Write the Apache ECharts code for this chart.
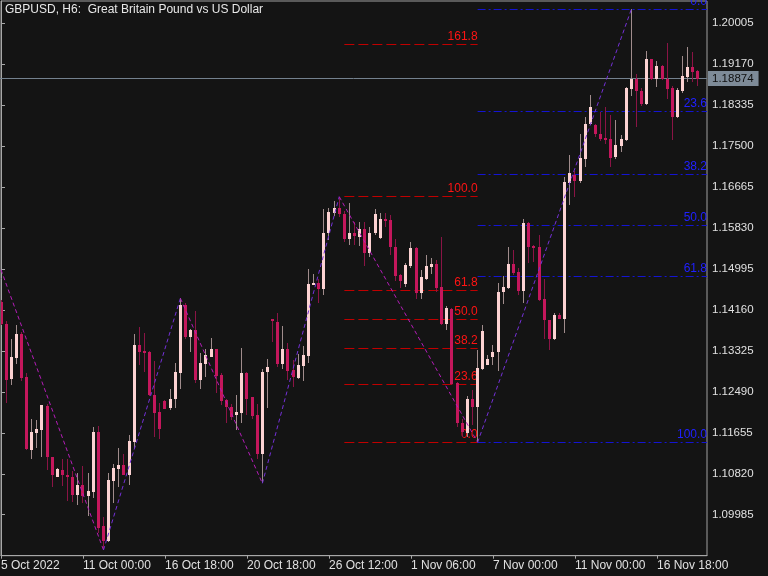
<!DOCTYPE html>
<html>
<head>
<meta charset="utf-8">
<script src="https://cdn.jsdelivr.net/npm/echarts/dist/echarts.min.js"></script>
<style>
html,body{margin:0;padding:0;background:#141414;}
#chart{width:768px;height:576px;}
</style>
</head>
<body>
<div id="chart"></div>
<script>
// ---- data (GBPUSD H6) ----
const opens = [1.14326,1.13871,1.12744,1.13172,1.13678,1.12785,1.11303,1.11644,1.11711,1.12200,
1.11155,1.10759,1.10896,1.10800,1.10759,1.10393,1.10596,1.10366,1.10448,1.11670,
1.09755,1.09455,1.10666,1.10922,1.10992,1.10800,1.11467,1.13437,1.13315,1.13301,
1.12418,1.12078,1.12308,1.12159,1.12337,1.12879,1.14265,1.13600,1.13749,1.12730,
1.13056,1.13205,1.13356,1.12826,1.12322,1.12174,1.12011,1.12064,1.12879,1.12377,
1.12011,1.11222,1.12893,1.13967,1.13912,1.13056,1.13356,1.12934,1.12771,1.13015,
1.13219,1.14672,1.14713,1.14578,1.15720,1.16127,1.16235,1.16113,1.15610,1.15732,
1.15650,1.15813,1.15312,1.15732,1.15624,1.16005,1.15991,1.15447,1.14864,1.14686,
1.15053,1.15420,1.14497,1.14794,1.15039,1.15094,1.14619,1.13871,1.14183,1.12663,
1.11848,1.11644,1.12349,1.12186,1.12960,1.13042,1.13205,1.13301,1.14523,1.14605,
1.15094,1.14931,1.14538,1.15936,1.15461,1.15434,1.14375,1.13953,1.13572,1.14061,
1.13967,1.16751,1.16902,1.16779,1.17240,1.17947,1.17921,1.17743,1.17662,1.17635,
1.17268,1.17499,1.17621,1.18666,1.18870,1.18626,1.18355,1.19266,1.18870,1.19129,
1.18870,1.18681,1.18084,1.18613,1.18911,1.19103,1.19021];
const highs = [1.14360,1.13926,1.13576,1.13845,1.13708,1.12879,1.11935,1.11915,1.12225,1.12241,
1.11161,1.10937,1.11126,1.11114,1.10882,1.10829,1.10977,1.10829,1.11778,1.11793,
1.09932,1.10841,1.11018,1.11344,1.11222,1.11603,1.13667,1.13816,1.13682,1.13321,
1.13111,1.12267,1.12322,1.12541,1.13070,1.14395,1.14293,1.13763,1.14130,1.13274,
1.13368,1.13586,1.13368,1.12867,1.12349,1.12241,1.12418,1.13382,1.12890,1.12390,
1.12241,1.12960,1.13152,1.13975,1.14089,1.13830,1.13490,1.13138,1.13260,1.13423,
1.14998,1.14890,1.14794,1.16209,1.16235,1.16384,1.16466,1.16180,1.16343,1.15950,
1.15950,1.15950,1.15842,1.16221,1.16127,1.16139,1.16099,1.15597,1.14890,1.15120,
1.15542,1.15440,1.14972,1.15284,1.15216,1.15176,1.15650,1.14238,1.14197,1.12689,
1.11929,1.12404,1.12526,1.13341,1.13845,1.13246,1.13437,1.14701,1.14849,1.15434,
1.15379,1.15012,1.16017,1.15950,1.15481,1.15679,1.14782,1.13953,1.14089,1.14089,
1.16873,1.17309,1.16983,1.17743,1.18084,1.18544,1.17947,1.18192,1.18287,1.18124,
1.18029,1.17729,1.18701,1.20285,1.18966,1.18681,1.19441,1.19278,1.19237,1.19149,
1.19592,1.18721,1.18681,1.19333,1.19510,1.19414,1.19048];
const lows = [1.13851,1.12267,1.12634,1.13056,1.12710,1.11303,1.11126,1.11338,1.11155,1.10896,
1.10556,1.10747,1.10570,1.10270,1.10250,1.10183,1.10230,1.09958,1.10319,1.09606,
1.09266,1.09429,1.10230,1.10556,1.10788,1.10584,1.11344,1.13030,1.12893,1.12404,
1.11575,1.11522,1.12133,1.12119,1.12159,1.12553,1.13572,1.13301,1.12663,1.12553,
1.12797,1.13193,1.12459,1.12214,1.11848,1.11915,1.11711,1.11860,1.12011,1.11941,
1.11126,1.10625,1.12159,1.13504,1.13001,1.12960,1.12730,1.12581,1.12757,1.12704,
1.13070,1.14660,1.14305,1.14456,1.15583,1.16072,1.16046,1.15542,1.15487,1.15475,
1.15461,1.15053,1.15243,1.15691,1.15610,1.15854,1.15284,1.14741,1.14605,1.14631,
1.15012,1.14387,1.14387,1.14768,1.14890,1.14523,1.13845,1.13749,1.12634,1.11766,
1.11575,1.11575,1.11813,1.11460,1.12934,1.13030,1.13042,1.12907,1.14279,1.14578,
1.14864,1.14456,1.14293,1.15120,1.15135,1.14346,1.13572,1.13341,1.13545,1.13967,
1.13682,1.16290,1.16466,1.16751,1.17077,1.17921,1.17676,1.17607,1.17539,1.17077,
1.17240,1.17376,1.17594,1.18518,1.17892,1.18314,1.18340,1.18844,1.18695,1.18844,
1.18450,1.17621,1.18075,1.18585,1.18803,1.18803,1.18721];
const closes = [1.13871,1.12730,1.13193,1.13667,1.12771,1.11318,1.11670,1.11725,1.12214,1.11155,
1.10788,1.10910,1.10788,1.10747,1.10393,1.10584,1.10366,1.10462,1.11670,1.09714,
1.09443,1.10692,1.10937,1.11004,1.10800,1.11481,1.13437,1.13301,1.13274,1.12418,
1.12064,1.11738,1.12145,1.12349,1.12893,1.14265,1.13612,1.13749,1.12730,1.13070,
1.13246,1.13356,1.12812,1.12308,1.12174,1.11982,1.12072,1.12879,1.12349,1.11996,
1.11222,1.12893,1.13001,1.13926,1.13056,1.13356,1.12907,1.12785,1.13030,1.13246,
1.14686,1.14713,1.14591,1.15732,1.16148,1.16235,1.16113,1.15610,1.15732,1.15665,
1.15813,1.15312,1.15732,1.16113,1.16017,1.15976,1.15447,1.14849,1.14741,1.15068,
1.15420,1.14497,1.14823,1.15053,1.15094,1.14605,1.13871,1.14197,1.12649,1.11848,
1.11670,1.12349,1.12180,1.12975,1.13735,1.13164,1.13301,1.14523,1.14619,1.15094,
1.14917,1.14550,1.15936,1.15447,1.15420,1.14360,1.13953,1.13572,1.14049,1.13979,
1.16765,1.16942,1.16792,1.17254,1.17947,1.18287,1.17743,1.17647,1.17621,1.17254,
1.17513,1.17635,1.18681,1.18870,1.18613,1.18355,1.19266,1.18870,1.19129,1.18858,
1.18666,1.18096,1.18640,1.18925,1.19103,1.19007,1.18874];

const xTickLabels = ['5 Oct 2022','11 Oct 00:00','16 Oct 18:00','20 Oct 18:00','26 Oct 12:00','1 Nov 06:00','7 Nov 00:00','11 Nov 00:00','16 Nov 18:00'];
const yTickFirst = 1.09150;
const yTickStep = 0.00835;
const yTop = 1.20454;

// zigzag swing points (bar index, price)
const swingBars = [0, 20, 35, 51, 66, 93, 123];
const swingPrices = [1.14976, 1.09266, 1.14395, 1.10625, 1.16466, 1.11460, 1.20285];

// Fibonacci levels (%)
const fibRedLevels = [0.0, 23.6, 38.2, 50.0, 61.8, 100.0, 161.8];
const fibBlueLevels = [0.0, 23.6, 38.2, 50.0, 61.8, 100.0];
const lastPrice = 1.18874;

// ---- chart ----
const FONT = 'Liberation Sans, Arial, sans-serif';
const bullBody = '#fcd2d2', bullWick = '#a08c8c';
const bearBody = '#c4175c', bearWick = '#8a1445';
const xMax = 137.76;

const candleData = opens.map((o, i) => [i, o, highs[i], lows[i], closes[i]]);

function renderCandle(params, api) {
  const i = api.value(0);
  const o = api.value(1), h = api.value(2), l = api.value(3), c = api.value(4);
  const pO = api.coord([i, o]), pC = api.coord([i, c]);
  const pH = api.coord([i, h]), pL = api.coord([i, l]);
  const up = c >= o;
  const cx = Math.round(pO[0] - 0.5);
  const top = Math.round(Math.min(pO[1], pC[1]));
  const bot = Math.round(Math.max(pO[1], pC[1]));
  const hy = Math.round(pH[1]), ly = Math.round(pL[1]);
  return {
    type: 'group',
    children: [
      { type: 'rect', shape: { x: cx, y: hy, width: 1, height: Math.max(1, ly - hy) },
        style: { fill: up ? bullWick : bearWick } },
      { type: 'rect', shape: { x: cx - 1, y: top, width: 3, height: Math.max(1, bot - top) },
        style: { fill: up ? bullBody : bearBody } }
    ]
  };
}

// level styles: 0 = red retracement, 1 = blue retracement
const levelStyles = [
  { stroke: '#c00000', dash: [10, 4], text: '#ff1414' },
  { stroke: '#1414d2', dash: [8, 3, 2, 3], text: '#2020ff' }
];
const redHi = swingPrices[4], redLo = swingPrices[5];
const blueHi = swingPrices[6], blueLo = swingPrices[5];
const levelRows = [];
fibRedLevels.forEach(r => levelRows.push([swingBars[4] + 1, swingBars[5], redLo + (redHi - redLo) * r / 100, r, 0]));
fibBlueLevels.forEach(r => levelRows.push([swingBars[5], xMax, blueHi - (blueHi - blueLo) * r / 100, r, 1]));

function renderLevel(params, api) {
  const x1 = api.value(0), x2 = api.value(1), p = api.value(2), r = api.value(3);
  const st = levelStyles[api.value(4)];
  const a = api.coord([x1, p]), b = api.coord([x2, p]);
  const y = Math.floor(a[1]) + 0.5;
  return {
    type: 'group',
    children: [
      { type: 'line', shape: { x1: a[0], y1: y, x2: b[0], y2: y },
        style: { stroke: st.stroke, lineWidth: 1, lineDash: st.dash } },
      { type: 'text', x: b[0], y: y - 1.5,
        style: { text: r.toFixed(1), fill: st.text, font: '12px Liberation Sans, Arial, sans-serif',
                 align: 'right', verticalAlign: 'bottom' } }
    ]
  };
}

function renderPriceLine(params, api) {
  const p = api.value(0);
  const a = api.coord([0, p]), b = api.coord([xMax, p]);
  const y = Math.floor(a[1]) + 0.5;
  return {
    type: 'group',
    children: [
      { type: 'line', shape: { x1: a[0] - 1, y1: y, x2: b[0], y2: y },
        style: { stroke: '#74818e', lineWidth: 1 } },
      { type: 'text', x: b[0] + 1, y: y,
        style: { text: p.toFixed(5), fill: '#101010', backgroundColor: '#7e8b98',
                 padding: [2, 5, 1, 4], font: '11.5px Liberation Sans, Arial, sans-serif',
                 align: 'left', verticalAlign: 'middle' } }
    ]
  };
}

const series = [];
series.push({
  type: 'custom', renderItem: renderLevel, data: levelRows, clip: false, z: 1,
  encode: { x: [0, 1], y: 2 }, silent: true, animation: false
});
series.push({
  type: 'custom', renderItem: renderPriceLine, data: [[lastPrice]], clip: false, z: 1,
  encode: { y: 0 }, silent: true, animation: false
});
series.push({
  type: 'custom', renderItem: renderCandle, data: candleData, clip: true, z: 2,
  encode: { x: 0, y: [1, 2, 3, 4] }, silent: true, animation: false
});
for (let k = 0; k < swingBars.length - 1; k++) {
  const up = swingPrices[k + 1] > swingPrices[k];
  series.push({
    type: 'line', z: 3, silent: true, showSymbol: false, animation: false,
    data: [[swingBars[k], swingPrices[k]], [swingBars[k + 1], swingPrices[k + 1]]],
    lineStyle: { color: up ? '#7430d8' : '#b41cb8', width: 1, type: [4, 3] },
    clip: true
  });
}

const chart = echarts.init(document.getElementById('chart'), null, { renderer: 'canvas' });
chart.setOption({
  backgroundColor: '#141414',
  animation: false,
  title: {
    text: 'GBPUSD, H6:  Great Britain Pound vs US Dollar',
    left: 5, top: 4, padding: 0,
    textStyle: { color: '#e8e8e8', fontSize: 12, fontWeight: 'normal', fontFamily: FONT }
  },
  grid: {
    left: 1, right: 61, top: 1, bottom: 20.3,
    show: true, borderColor: '#a0a0a0', borderWidth: 1, backgroundColor: 'transparent',
    containLabel: false, outerBoundsMode: 'none'
  },
  xAxis: {
    type: 'value', min: 0, max: xMax, interval: 16,
    axisLine: { show: true, lineStyle: { color: '#a8a8a8' } },
    axisTick: { show: true, length: 3, lineStyle: { color: '#a8a8a8' } },
    splitLine: { show: false },
    axisLabel: {
      color: '#e0e0e0', fontSize: 12, fontFamily: FONT, align: 'left', margin: 4,
      showMaxLabel: false, showMinLabel: true,
      formatter: v => { const k = Math.round(v / 16); return (Math.abs(v - k * 16) < 1e-6 && xTickLabels[k]) ? xTickLabels[k] : ''; }
    }
  },
  yAxis: {
    type: 'value', position: 'right', min: yTickFirst, max: yTop, interval: yTickStep,
    axisLine: { show: true, lineStyle: { color: '#a8a8a8' } },
    axisTick: { show: true, length: 4, lineStyle: { color: '#a8a8a8' } },
    splitLine: { show: false },
    axisLabel: {
      color: '#e0e0e0', fontSize: 11.5, fontFamily: FONT, margin: 5,
      showMinLabel: false, showMaxLabel: false,
      formatter: v => v.toFixed(5)
    }
  },
  series: series
});
</script>
</body>
</html>
